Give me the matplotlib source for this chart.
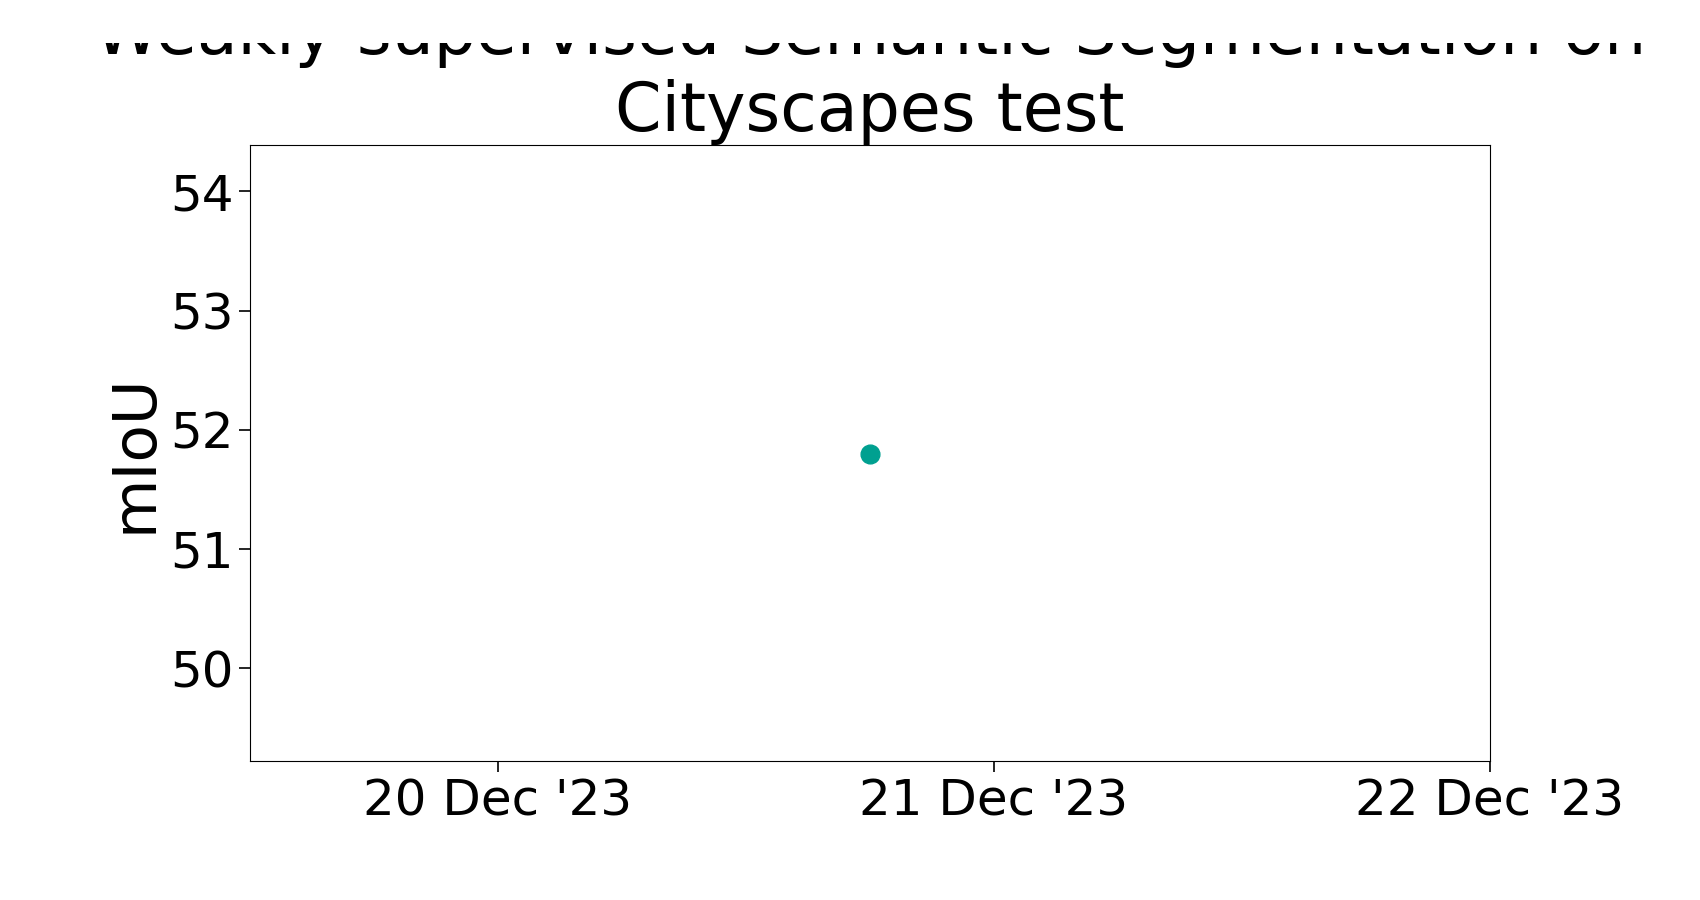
import matplotlib
matplotlib.use("Agg")
import matplotlib.pyplot as plt
import matplotlib.dates as mdates
from matplotlib.patches import Rectangle
import pandas as pd

# data
dates = pd.to_datetime(["2023-12-20 18:00"])
miou = [51.8]
title = "Weakly-supervised Semantic Segmentation on\nCityscapes test"

fig = plt.figure(figsize=(17, 9), dpi=100)
ax = fig.add_axes([0.147, 0.1544, 0.7295, 0.6846])

ax.plot(dates, miou, "o", color="#00a090", markersize=13.5)

ax.set_xlim(pd.Timestamp("2023-12-19 12:00"), pd.Timestamp("2023-12-22 00:00"))
ax.set_ylim(49.22, 54.39)
ax.xaxis.set_major_locator(mdates.DayLocator())
ax.xaxis.set_major_formatter(mdates.DateFormatter("%d %b '%y"))
ax.set_yticks([50, 51, 52, 53, 54])

ax.tick_params(labelsize=36, length=8, width=1.2)
ax.set_ylabel("mIoU", fontsize=44)
ax.set_title(title, fontsize=48)

# the top of the first title line is cut off in the original
fig.add_artist(Rectangle((0, 1 - 43 / 900), 1, 43 / 900, transform=fig.transFigure,
                         facecolor="white", edgecolor="none", zorder=10))

fig.savefig("out.png", dpi=100)
